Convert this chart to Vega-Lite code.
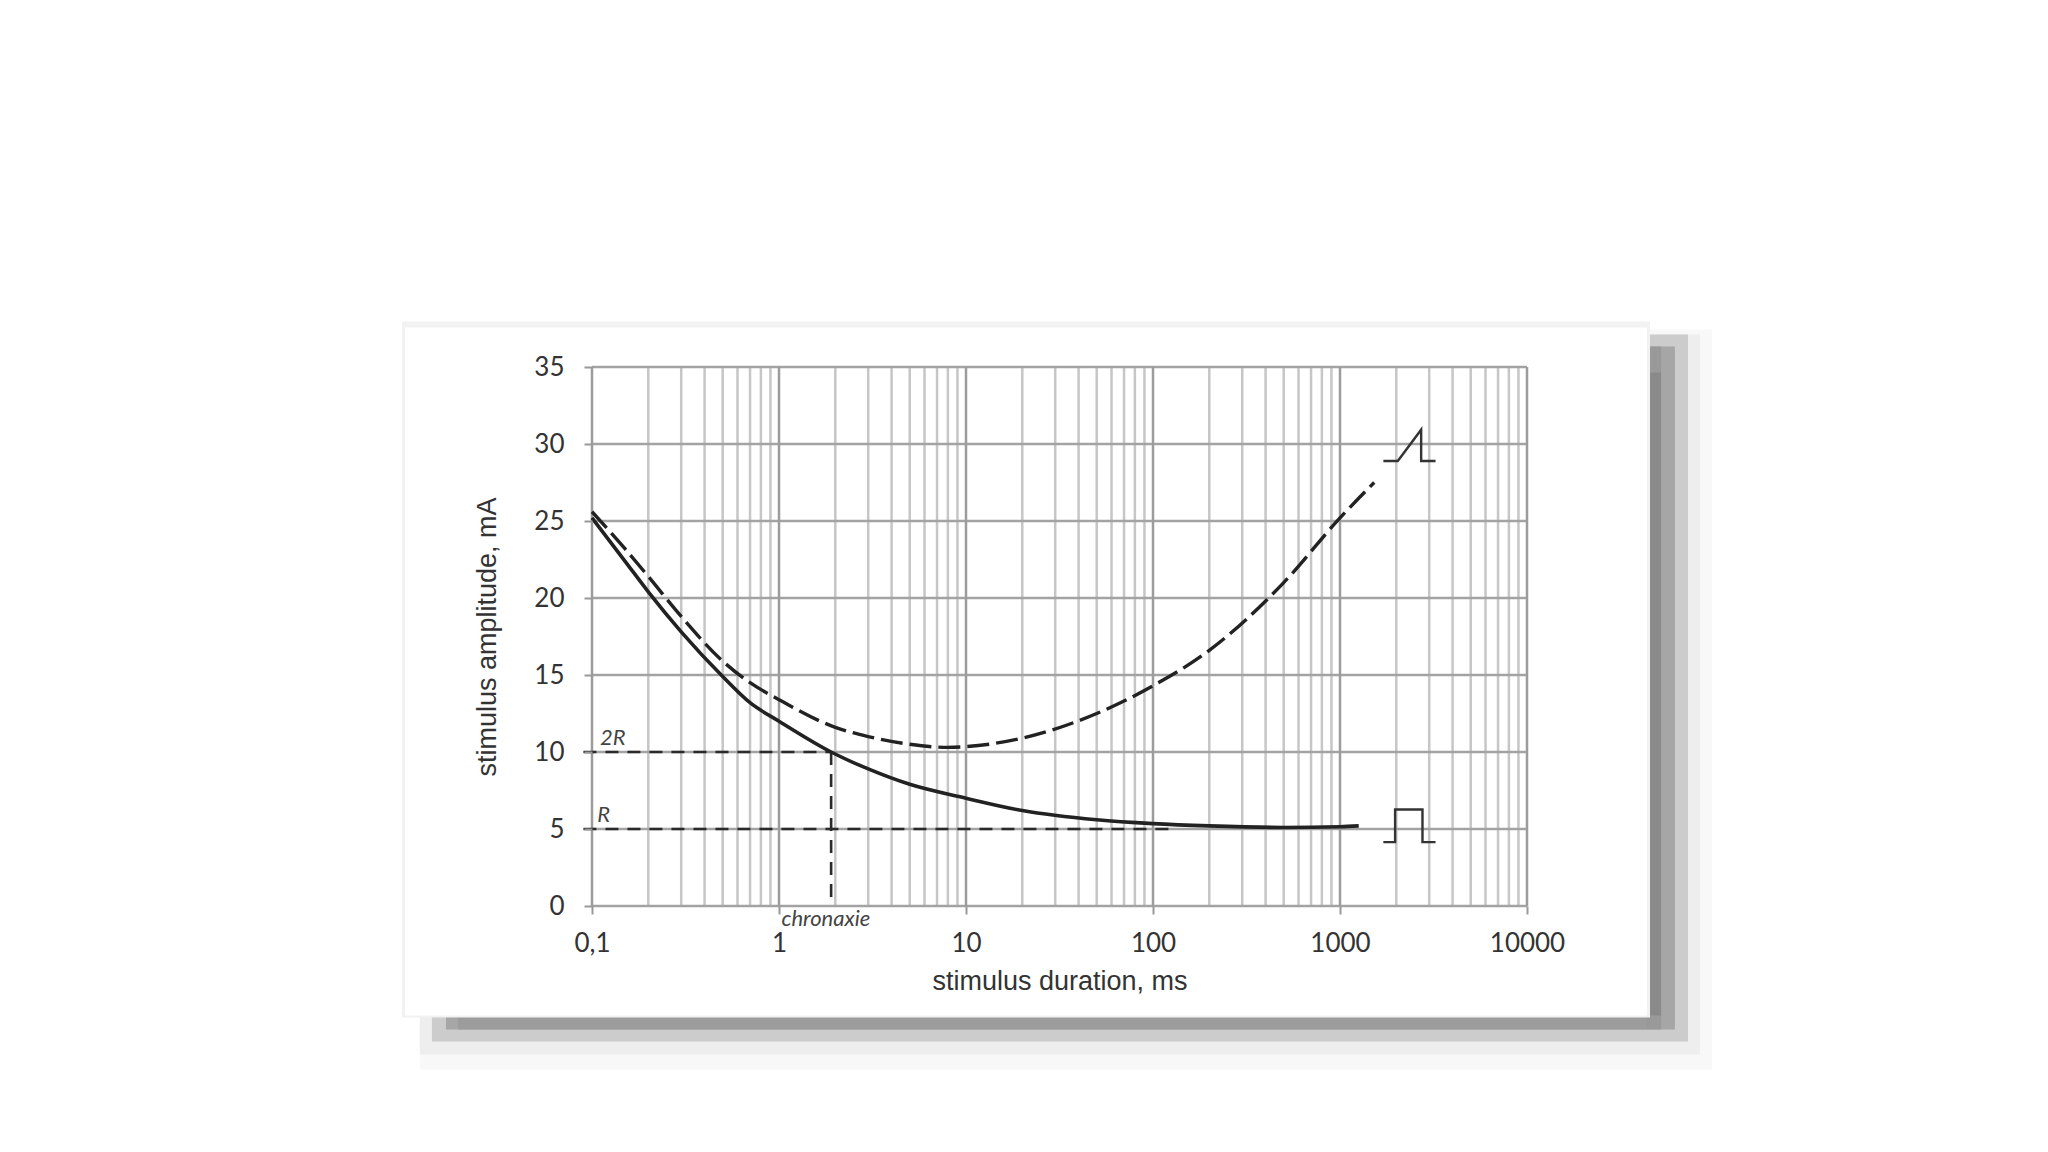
{
  "$schema": "https://vega.github.io/schema/vega-lite/v6.json",
  "description": "Strength-duration curves for rectangular and ramp stimuli.",
  "autosize": {"type": "none"},
  "padding": {"left": 592, "top": 367, "right": 521, "bottom": 246},
  "width": 935,
  "height": 539,
  "background": "white",
  "datasets": {
    "shadow": [
      {"level": "a", "x": 0.012, "x2": 97500, "y": 37.43, "y2": -10.62},
      {"level": "b", "x": 0.012, "x2": 84100, "y": 37.11, "y2": -9.64},
      {"level": "c", "x": 0.01393, "x2": 72600, "y": 37.11, "y2": -8.8},
      {"level": "d", "x": 0.01656, "x2": 61800, "y": 36.33, "y2": -8.02},
      {"level": "e", "x": 43850, "x2": 52120, "y": 36.33, "y2": -8.02},
      {"level": "f", "x": 43850, "x2": 52120, "y": 34.64, "y2": -7.11},
      {"level": "g", "x": 0.0192, "x2": 43850, "y": -7.11, "y2": -8.02},
      {"level": "h", "x": 0.00964, "x2": 45490, "y": 37.95, "y2": -7.24},
      {"level": "i", "x": 0.01, "x2": 43850, "y": 37.56, "y2": -7.11}
    ],
    "minorGrid": [
      {"x": 0.2}, {"x": 0.3}, {"x": 0.4}, {"x": 0.5}, {"x": 0.6}, {"x": 0.7}, {"x": 0.8}, {"x": 0.9},
      {"x": 2}, {"x": 3}, {"x": 4}, {"x": 5}, {"x": 6}, {"x": 7}, {"x": 8}, {"x": 9},
      {"x": 20}, {"x": 30}, {"x": 40}, {"x": 50}, {"x": 60}, {"x": 70}, {"x": 80}, {"x": 90},
      {"x": 200}, {"x": 300}, {"x": 400}, {"x": 500}, {"x": 600}, {"x": 700}, {"x": 800}, {"x": 900},
      {"x": 2000}, {"x": 3000}, {"x": 4000}, {"x": 5000}, {"x": 6000}, {"x": 7000}, {"x": 8000}, {"x": 9000}
    ],
    "majorGrid": [{"x": 0.1}, {"x": 1}, {"x": 10}, {"x": 100}, {"x": 1000}, {"x": 10000}],
    "hGrid": [{"y": 0}, {"y": 5}, {"y": 10}, {"y": 15}, {"y": 20}, {"y": 25}, {"y": 30}, {"y": 35}],
    "solid": [
      {"x": 0.1, "y": 25.2}, {"x": 0.15, "y": 22.4}, {"x": 0.2, "y": 20.4}, {"x": 0.3, "y": 17.8},
      {"x": 0.5, "y": 14.9}, {"x": 0.7, "y": 13.2}, {"x": 1, "y": 12}, {"x": 1.9, "y": 10},
      {"x": 3, "y": 8.9}, {"x": 5, "y": 7.9}, {"x": 10, "y": 7}, {"x": 20, "y": 6.2}, {"x": 50, "y": 5.6},
      {"x": 100, "y": 5.35}, {"x": 200, "y": 5.2}, {"x": 500, "y": 5.1}, {"x": 1000, "y": 5.15}, {"x": 1259, "y": 5.2}
    ],
    "dashed": [
      {"x": 0.1, "y": 25.6}, {"x": 0.15, "y": 23.2}, {"x": 0.2, "y": 21.4}, {"x": 0.3, "y": 18.8},
      {"x": 0.5, "y": 15.9}, {"x": 0.7, "y": 14.5}, {"x": 1, "y": 13.4}, {"x": 2, "y": 11.6},
      {"x": 3, "y": 11}, {"x": 5, "y": 10.5}, {"x": 8, "y": 10.3}, {"x": 10, "y": 10.35}, {"x": 20, "y": 10.9},
      {"x": 50, "y": 12.5}, {"x": 100, "y": 14.3}, {"x": 200, "y": 16.6}, {"x": 500, "y": 21}, {"x": 1000, "y": 25.2}, {"x": 1524, "y": 27.5}
    ],
    "guides": [
      {"guide": "2R", "seq": 1, "x": 0.09, "y": 10},
      {"guide": "2R", "seq": 2, "x": 1.9, "y": 10},
      {"guide": "R", "seq": 1, "x": 0.09, "y": 5},
      {"guide": "R", "seq": 2, "x": 132, "y": 5},
      {"guide": "chronaxie", "seq": 1, "x": 1.9, "y": 10},
      {"guide": "chronaxie", "seq": 2, "x": 1.9, "y": 0}
    ],
    "pulses": [
      {"pulse": "rect", "seq": 1, "x": 1706, "y": 4.15},
      {"pulse": "rect", "seq": 2, "x": 1971, "y": 4.15},
      {"pulse": "rect", "seq": 3, "x": 1971, "y": 6.27},
      {"pulse": "rect", "seq": 4, "x": 2761, "y": 6.27},
      {"pulse": "rect", "seq": 5, "x": 2761, "y": 4.15},
      {"pulse": "rect", "seq": 6, "x": 3243, "y": 4.15},
      {"pulse": "ramp", "seq": 1, "x": 1706, "y": 28.9},
      {"pulse": "ramp", "seq": 2, "x": 2037, "y": 28.9},
      {"pulse": "ramp", "seq": 3, "x": 2716, "y": 30.93},
      {"pulse": "ramp", "seq": 4, "x": 2716, "y": 28.9},
      {"pulse": "ramp", "seq": 5, "x": 3243, "y": 28.9}
    ],
    "notes": [
      {"label": "2R", "x": 0.129, "y": 10.93},
      {"label": "R", "x": 0.1156, "y": 5.93},
      {"label": "chronaxie", "x": 1.78, "y": -0.85}
    ]
  },
  "encoding": {
    "x": {
      "field": "x",
      "type": "quantitative",
      "scale": {"type": "log", "domain": [0.1, 10000], "nice": false},
      "axis": {
        "title": "stimulus duration, ms",
        "titleFont": "Liberation Sans",
        "titleFontSize": 27,
        "titleFontWeight": "normal",
        "titleColor": "#333333",
        "titlePadding": 12,
        "values": [0.1, 1, 10, 100, 1000, 10000],
        "labelExpr": "datum.value == 0.1 ? '0,1' : format(datum.value, 'd')",
        "labelFont": "Lato",
        "labelFontSize": 26,
        "labelColor": "#333333",
        "labelPadding": 16,
        "labelFlush": false,
        "labelOverlap": false,
        "tickColor": "#999999",
        "tickWidth": 2,
        "tickSize": 8,
        "domain": false,
        "grid": false,
        "zindex": 1
      }
    },
    "y": {
      "field": "y",
      "type": "quantitative",
      "scale": {"domain": [0, 35], "nice": false, "zero": false},
      "axis": {
        "title": "stimulus amplitude, mA",
        "titleFont": "Liberation Sans",
        "titleFontSize": 27,
        "titleFontWeight": "normal",
        "titleColor": "#333333",
        "titlePadding": 32,
        "values": [0, 5, 10, 15, 20, 25, 30, 35],
        "labelFont": "Lato",
        "labelFontSize": 26,
        "labelColor": "#333333",
        "labelPadding": 20,
        "tickColor": "#999999",
        "tickWidth": 2,
        "tickSize": 8,
        "domain": false,
        "grid": false,
        "zindex": 1
      }
    }
  },
  "layer": [
    {
      "data": {"name": "shadow"},
      "mark": {"type": "rect", "clip": false},
      "encoding": {
        "x2": {"field": "x2"},
        "y2": {"field": "y2"},
        "color": {
          "field": "level",
          "type": "nominal",
          "legend": null,
          "scale": {
            "domain": ["a", "b", "c", "d", "e", "f", "g", "h", "i"],
            "range": ["#f8f8f8", "#eeeeee", "#cccccc", "#a6a6a6", "#999999", "#8a8a8a", "#9c9c9c", "#f2f2f2", "#ffffff"]
          }
        }
      }
    },
    {
      "data": {"name": "minorGrid"},
      "mark": {"type": "rule", "color": "#c6c6c6", "strokeWidth": 2.5},
      "encoding": {"y": {"value": 0}, "y2": {"value": 539}}
    },
    {
      "data": {"name": "hGrid"},
      "mark": {"type": "rule", "color": "#a3a3a3", "strokeWidth": 2.5},
      "encoding": {"x": {"value": 0}, "x2": {"value": 935}}
    },
    {
      "data": {"name": "majorGrid"},
      "mark": {"type": "rule", "color": "#9c9c9c", "strokeWidth": 2.5},
      "encoding": {"y": {"value": 0}, "y2": {"value": 539}}
    },
    {
      "data": {"name": "guides"},
      "mark": {"type": "line", "color": "#2a2a2a", "strokeWidth": 2.6, "strokeDash": [13, 9], "clip": false},
      "encoding": {"detail": {"field": "guide"}, "order": {"field": "seq"}}
    },
    {
      "data": {"name": "solid"},
      "mark": {"type": "line", "color": "#222222", "strokeWidth": 3.6, "interpolate": "monotone"}
    },
    {
      "data": {"name": "dashed"},
      "mark": {"type": "line", "color": "#222222", "strokeWidth": 3.4, "interpolate": "monotone", "strokeDash": [22, 7]}
    },
    {
      "data": {"name": "pulses"},
      "mark": {"type": "line", "color": "#333333", "strokeWidth": 2.4},
      "encoding": {"detail": {"field": "pulse"}, "order": {"field": "seq"}}
    },
    {
      "data": {"name": "notes"},
      "mark": {"type": "text", "font": "Lato", "fontStyle": "italic", "fontSize": 22, "color": "#444444", "clip": false},
      "encoding": {"text": {"field": "label"}}
    }
  ]
}
